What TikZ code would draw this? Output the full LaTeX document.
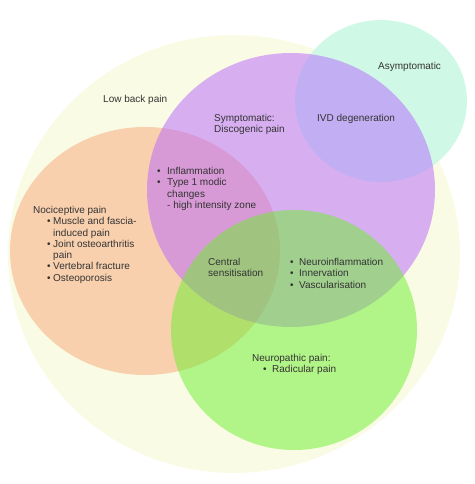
\documentclass[tikz,border=0pt]{standalone}
\usepackage{fontspec}
\setmainfont{Liberation Sans}

\definecolor{lbpyellow}{RGB}{250,251,228}
\definecolor{nocorange}{RGB}{249,208,174}
\definecolor{asymteal}{RGB}{208,248,230}
\definecolor{sympurple}{RGB}{182,101,255}
\definecolor{neurgreen}{RGB}{106,239,44}

% bullet item with fixed gap between bullet and text
\newcommand\bitem[2][6pt]{\makebox[#1][l]{\textbullet}#2}

\begin{document}
\begin{tikzpicture}[
  x=1pt, y=-1pt,
  region/.style={draw=none},
  seethrough/.style={region, fill opacity=0.5},
  lbl/.style={anchor=north west, inner sep=0pt, align=left, text=black!80,
    font=\fontsize{10}{11.3}\selectfont}
]
\useasboundingbox (0,0) rectangle (474,484);

% sets
\fill[region, lbpyellow] (234,254) ellipse [x radius=226, y radius=219];
\fill[region, nocorange] (145,251) ellipse [x radius=135, y radius=124];
\fill[region, asymteal] (381,101) ellipse [x radius=86, y radius=81];
\fill[seethrough, sympurple] (291,190) ellipse [x radius=144, y radius=137];
\fill[seethrough, neurgreen] (294,330) ellipse [x radius=123, y radius=120];

% labels
\node[lbl] (lbp) at (103,95) {Low back pain};
\node[lbl] (asym) at (378,62) {Asymptomatic};
\node[lbl] (symp) at (214,114) {Symptomatic:\\Discogenic pain};
\node[lbl] (ivd) at (317,114) {IVD degeneration};
\node[lbl] (inflam) at (157,167)
  {\bitem[10pt]{Inflammation}\\
   \bitem[10pt]{Type 1 modic}\\
   \hspace{10pt}changes\\
   \hspace{10pt}- high intensity zone};
\node[lbl] (noci) at (33,206)
  {Nociceptive pain\\
   \hspace{14pt}\bitem{Muscle and fascia-}\\
   \hspace{20pt}induced pain\\
   \hspace{14pt}\bitem{Joint osteoarthritis}\\
   \hspace{20pt}pain\\
   \hspace{14pt}\bitem{Vertebral fracture}\\
   \hspace{14pt}\bitem{Osteoporosis}};
\node[lbl] (central) at (208,258) {Central\\sensitisation};
\node[lbl] (neuroinf) at (290,258)
  {\bitem[9pt]{Neuroinflammation}\\
   \bitem[9pt]{Innervation}\\
   \bitem[9pt]{Vascularisation}};
\node[lbl] (neuro) at (252,354)
  {Neuropathic pain:\\
   \hspace{11pt}\bitem[9pt]{Radicular pain}};
\end{tikzpicture}
\end{document}
